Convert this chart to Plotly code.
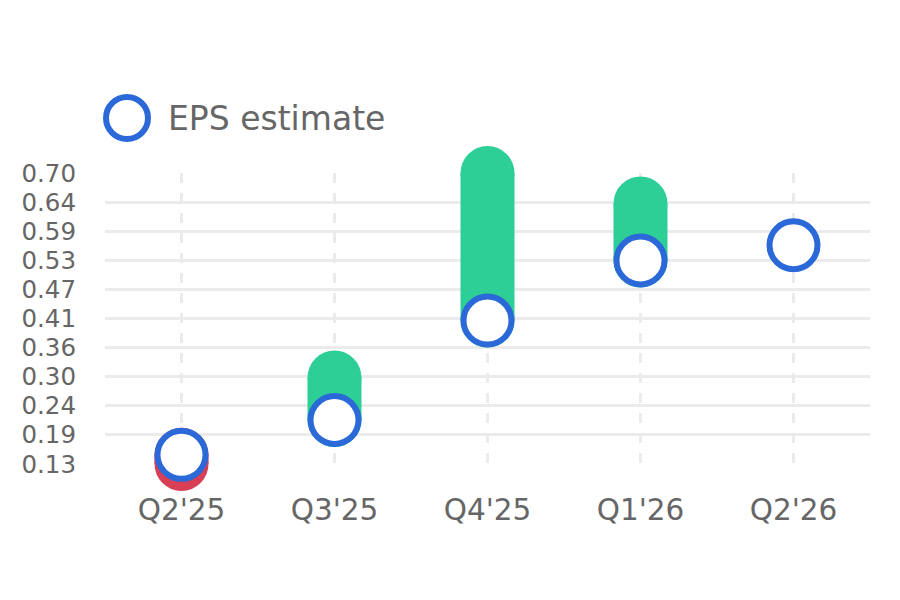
import plotly.graph_objects as go

quarters = ["Q2'25", "Q3'25", "Q4'25", "Q1'26", "Q2'26"]
eps_estimate = [0.146, 0.2145, 0.41, 0.528, 0.558]
eps_actual = [0.128, 0.298, 0.70, 0.64, None]
legend_label = "EPS estimate"

GREEN = "#2ecf96"
RED = "#d83f57"
BLUE = "#2a69d7"
GRID = "#ebebeb"
TXT = "#666666"
FONT = "DejaVu Sans"

fig = go.Figure()

for q, est, act in zip(quarters, eps_estimate, eps_actual):
    if act is None:
        continue
    col = GREEN if act >= est else RED
    fig.add_trace(go.Scatter(
        x=[q, q], y=[act, est], mode="lines+markers",
        line=dict(color=col, width=54),
        marker=dict(size=54, color=col, line=dict(width=0)),
        cliponaxis=False, showlegend=False, hoverinfo="skip"))

fig.add_trace(go.Scatter(
    x=quarters, y=eps_estimate, mode="markers", name=legend_label,
    marker=dict(size=48, color="white", line=dict(color=BLUE, width=6)),
    cliponaxis=False, showlegend=False))

vals = [v for v in eps_estimate + eps_actual if v is not None]
lo, hi = min(vals), max(vals)
tickvals = [lo + i * (hi - lo) / 10 for i in range(11)]

# legend drawn manually (large marker)
L, R, T, B = 105, 30, 173, 136
W, H = 900, 600
pw, ph = W - L - R, H - T - B
cx, cy = 127, 118
fig.add_shape(type="circle", xref="paper", yref="paper",
              xsizemode="pixel", ysizemode="pixel",
              xanchor=(cx - L) / pw, yanchor=(H - B - cy) / ph,
              x0=-21, x1=21, y0=-21, y1=21,
              line=dict(color=BLUE, width=6), fillcolor="white")
fig.add_annotation(xref="paper", yref="paper", x=(166 - L) / pw,
                   y=(H - B - cy) / ph, xanchor="left", yanchor="middle",
                   text=legend_label, showarrow=False,
                   font=dict(family=FONT, size=33, color=TXT))

fig.update_layout(
    width=W, height=H, margin=dict(l=L, r=R, t=T, b=B),
    paper_bgcolor="white", plot_bgcolor="white",
    font=dict(family=FONT, color=TXT),
    showlegend=False,
    xaxis=dict(type="category", range=[-0.5, 4.5], showgrid=True,
               gridcolor=GRID, gridwidth=3, griddash="10px,10px",
               zeroline=False, showline=False, ticks="",
               tickfont=dict(size=29.5, color=TXT), ticklabelstandoff=25),
    yaxis=dict(range=[lo, hi], tickvals=tickvals, tickformat=".2f",
               showgrid=True, gridcolor=GRID, gridwidth=3, zeroline=False,
               showline=False, ticks="", tickfont=dict(size=24.5, color=TXT),
               ticklabelstandoff=28),
)

fig.write_html("out.html")
